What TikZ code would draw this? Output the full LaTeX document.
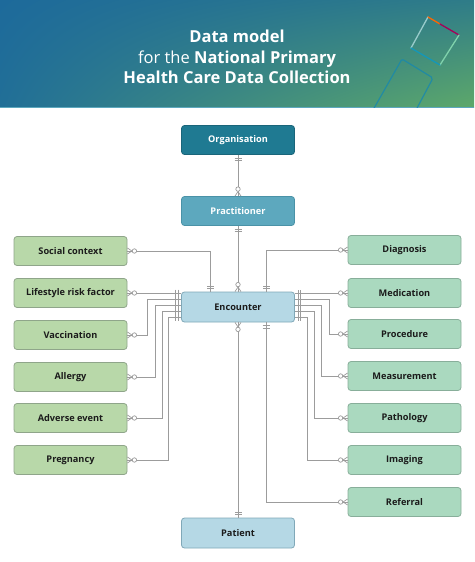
\documentclass[tikz,border=0pt]{standalone}
\usepackage{fontspec}
\setmainfont{Open Sans}
\usetikzlibrary{positioning, calc, shadings, decorations.markings}
\definecolor{headBlue}{HTML}{1D6A9B}
\definecolor{headBlueLow}{HTML}{216F97}
\definecolor{headTeal}{HTML}{2F7C88}
\definecolor{headGreen}{HTML}{5DA86A}
\definecolor{orgFill}{HTML}{1F7A92}
\definecolor{orgEdge}{HTML}{1A657A}
\definecolor{pracFill}{HTML}{5DA8BE}
\definecolor{pracEdge}{HTML}{4A92A7}
\definecolor{encFill}{HTML}{B5D8E5}
\definecolor{encEdge}{HTML}{80A8B8}
\definecolor{leftFill}{HTML}{B8D8A9}
\definecolor{leftEdge}{HTML}{8FA58A}
\definecolor{rightFill}{HTML}{AAD9BF}
\definecolor{rightEdge}{HTML}{88AE9A}
\definecolor{lineGrey}{HTML}{9C9C9C}
\definecolor{darkText}{HTML}{1B1B1B}
\tikzset{
    % one-and-only-one at the start, zero-or-many at the end
    relation/.style={draw=lineGrey, line width=0.7pt,
        postaction={decorate, decoration={markings,
            mark=at position 3pt with {\draw[lineGrey, line width=0.7pt] (0,-3.5pt) -- (0,3.5pt);},
            mark=at position 5.5pt with {\draw[lineGrey, line width=0.7pt] (0,-3.5pt) -- (0,3.5pt);},
            mark=at position -7pt with {\draw[lineGrey, line width=0.7pt, fill=white] (0,0) circle (2.2pt);},
            mark=at position -0.01pt with {\draw[lineGrey, line width=0.7pt] (-4.5pt,0) -- (0,3pt) (-4.5pt,0) -- (0,-3pt);}}}},
    entity/.style={draw, rounded corners=3pt, line width=0.8pt, minimum width=113pt,
        minimum height=29pt, font=\fontsize{9.2}{11}\selectfont\bfseries, text=darkText},
    leftbox/.style={entity, fill=leftFill, draw=leftEdge},
    rightbox/.style={entity, fill=rightFill, draw=rightEdge},
    corebox/.style={entity, fill=encFill, draw=encEdge}
}

\begin{document}
\begin{tikzpicture}[x=1pt, y=-1pt]
    \useasboundingbox (0,0) rectangle (474,562);
    \fill[white] (0,0) rectangle (474,562);

    % Header band
    \shade[upper left=headBlue, lower left=headBlueLow, upper right=headTeal, lower right=headGreen] (0,0) rectangle (474,107);
    \draw[line width=1pt, color=pracFill] (0,107.5) -- (474,107.5);
    \begin{scope}
        \clip (0,0) rectangle (474,107);
        \draw[line width=1.2pt, color=headBlue!80!cyan, opacity=0.8, rounded corners=2pt] (373,110) -- (402,59) -- (433,78) -- (416,110);
        \draw[line width=1.3pt, line cap=round, color=teal!40!white] (411,48) -- (428,17);
        \draw[line width=1.3pt, line cap=round, color=orange!80!red] (428,17) -- (440,24);
        \draw[line width=1.3pt, line cap=round, color=violet!70!red] (440,24) -- (459,35);
        \draw[line width=1.3pt, line cap=round, color=green!30!teal!50!white] (459,35) -- (440,65);
        \draw[line width=1.3pt, line cap=round, color=headBlue!70!cyan] (440,65) -- (411,48);
    \end{scope}
    \node[text=white, align=center, font=\fontsize{16.5}{20.5}\selectfont] (title) at (237,57)
        {\textbf{Data model}\\for the \textbf{National Primary}\\\textbf{Health Care Data Collection}};

    % Core entities
    \node[entity, fill=orgFill, draw=orgEdge, text=white] (org) at (238,140) {Organisation};
    \node[entity, fill=pracFill, draw=pracEdge, text=white] (prac) at (238,211) {Practitioner};
    \node[corebox, minimum height=30pt] (enc) at (238,307) {Encounter};
    \node[corebox, minimum height=30pt] (pat) at (238,533) {Patient};

    % Left entities
    \node[leftbox] (soc) at (70.5,251) {Social context};
    \node[leftbox] (life) at (70.5,293) {Lifestyle risk factor};
    \node[leftbox] (vacc) at (70.5,335) {Vaccination};
    \node[leftbox] (allg) at (70.5,377) {Allergy};
    \node[leftbox] (adv) at (70.5,418) {Adverse event};
    \node[leftbox] (preg) at (70.5,460) {Pregnancy};

    % Right entities
    \node[rightbox] (diag) at (404.5,250) {Diagnosis};
    \node[rightbox] (med) at (404.5,293) {Medication};
    \node[rightbox] (proc) at (404.5,334) {Procedure};
    \node[rightbox] (meas) at (404.5,376) {Measurement};
    \node[rightbox] (patho) at (404.5,418) {Pathology};
    \node[rightbox] (img) at (404.5,460) {Imaging};
    \node[rightbox] (ref) at (404.5,502) {Referral};

    % Spine
    \draw[relation] (org) -- (prac);
    \draw[relation] (prac) -- (enc);
    \draw[relation] (pat) -- (enc);

    % Left links
    \draw[relation] ([xshift=-28pt]enc.north) |- (soc.east);
    \draw[relation] (enc.west |- life.east) -- (life.east);
    \draw[relation] ([yshift=8pt]enc.west) -- ++(-34,0) |- (vacc.east);
    \draw[relation] ([yshift=2pt]enc.west) -- ++(-26,0) |- (allg.east);
    \draw[relation] ([yshift=-4pt]enc.west) -- ++(-19,0) |- (adv.east);
    \draw[relation] ([yshift=-10pt]enc.west) -- ++(-13,0) |- (preg.east);

    % Right links
    \draw[relation] ([xshift=28pt]enc.north) |- (diag.west);
    \draw[relation] (enc.east |- med.west) -- (med.west);
    \draw[relation] ([yshift=8pt]enc.east) -- ++(34,0) |- (proc.west);
    \draw[relation] ([yshift=2pt]enc.east) -- ++(26,0) |- (meas.west);
    \draw[relation] ([yshift=-4pt]enc.east) -- ++(19,0) |- (patho.west);
    \draw[relation] ([yshift=-10pt]enc.east) -- ++(12,0) |- (img.west);
    \draw[relation] ([xshift=28pt]enc.south) |- (ref.west);
\end{tikzpicture}
\end{document}
